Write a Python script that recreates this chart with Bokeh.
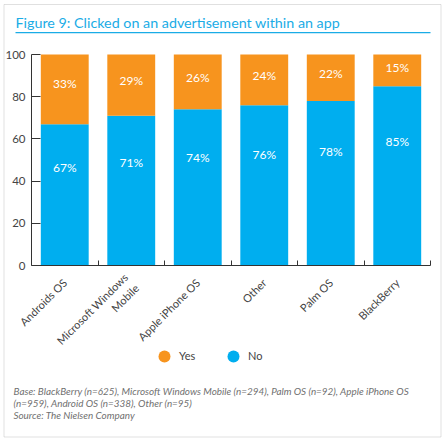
import math
from bokeh.plotting import figure
from bokeh.models import (Range1d, FixedTicker, Label, BoxAnnotation, Legend,
                          LegendItem, ColumnDataSource)
from bokeh.core.properties import value
from bokeh.embed import file_html
from bokeh.resources import INLINE

categories = ["Androids OS", "Microsoft Windows\nMobile", "Apple iPhone OS",
              "Other", "Palm OS", "BlackBerry"]
no_values = [67, 71, 74, 76, 78, 85]
yes_values = [33, 29, 26, 24, 22, 15]
series = ["No", "Yes"]
y_ticks = [0, 20, 40, 60, 80, 100]
title_text = "Figure 9: Clicked on an advertisement within an app"
footer_lines = [
    "Base: BlackBerry (n=625), Microsoft Windows Mobile (n=294), Palm OS (n=92), Apple iPhone OS",
    "(n=959), Android OS (n=338), Other (n=95)",
    "Source: The Nielsen Company",
]

BLUE = "#00AEEF"
ORANGE = "#F7941E"
TITLE_BLUE = "#1AACE6"
FONT = "Lato"
AXIS = "#333333"

W, H = 444, 441
# plot area in canvas pixels (left, right, top, bottom)
PL, PR, PT, PB = 31, 430, 54, 265
n = len(categories)
ppx = (PR - PL) / n          # pixels per category
ppy = (PB - PT) / 100.0      # pixels per percent

xs = [i + 0.5 for i in range(n)]
src = ColumnDataSource(dict(
    x=xs, No=no_values, Yes=yes_values,
    no_lab=[f"{v}%" for v in no_values],
    yes_lab=[f"{v}%" for v in yes_values],
    no_y=[v * 0.69 for v in no_values],
    yes_y=[100 - 0.42 * b for b in yes_values],
))

p = figure(width=W, height=H,
           x_range=Range1d(-PL / ppx, (W - PL) / ppx),
           y_range=Range1d(-(H - PB) / ppy, 100 + PT / ppy),
           output_backend="svg", toolbar_location=None, title_location=None,
           min_border=0)
p.min_border_left = p.min_border_right = p.min_border_top = p.min_border_bottom = 0
p.outline_line_color = None
p.grid.visible = False
p.background_fill_color = "white"
p.border_fill_color = "white"

p.vbar_stack(series, x="x", width=0.72, source=src,
             fill_color=[BLUE, ORANGE], line_color=None)

for ycol, tcol in (("no_y", "no_lab"), ("yes_y", "yes_lab")):
    p.text(x="x", y=ycol, text=tcol, source=src, text_color="white",
           text_font=value(FONT), text_font_size="12px",
           text_align="center", text_baseline="middle")

# y axis
ya = p.yaxis[0]
ya.fixed_location = 0
ya.bounds = (0, 100)
ya.ticker = FixedTicker(ticks=y_ticks)
ya.major_tick_in = 9
ya.major_tick_out = 0
ya.minor_tick_line_color = None
ya.axis_line_color = AXIS
ya.major_tick_line_color = AXIS
ya.major_label_text_font = FONT
ya.major_label_text_font_size = "11.5px"
ya.major_label_text_color = "#444444"
ya.major_label_standoff = 6

# x axis
xa = p.xaxis[0]
xa.fixed_location = 0
xa.bounds = (0, n)
xa.ticker = FixedTicker(ticks=xs, minor_ticks=[i + 1 for i in range(n)])
xa.major_label_overrides = {x: c for x, c in zip(xs, categories)}
xa.major_tick_in = 0
xa.major_tick_out = 0
xa.minor_tick_in = 5
xa.minor_tick_out = 0
xa.minor_tick_line_color = AXIS
xa.axis_line_color = AXIS
xa.major_label_orientation = math.pi / 4
xa.major_label_text_font = FONT
xa.major_label_text_font_size = "11px"
xa.major_label_text_color = "#444444"
xa.major_label_standoff = 15

# legend with circle glyphs (hidden renderers only feed the legend)
r_yes = p.scatter(x=xs, y=yes_values, marker="circle", size=12,
                  fill_color=ORANGE, line_color=None, visible=False)
r_no = p.scatter(x=xs, y=no_values, marker="circle", size=12,
                 fill_color=BLUE, line_color=None, visible=False)
legend = Legend(items=[LegendItem(label="Yes", renderers=[r_yes]),
                       LegendItem(label="No", renderers=[r_no])],
                orientation="horizontal", location=(149, H - 370.5),
                border_line_color=None, background_fill_alpha=0,
                inactive_fill_alpha=0,
                padding=0, margin=0, spacing=19, glyph_width=30, glyph_height=30,
                label_standoff=0, label_height=30,
                label_text_font=FONT, label_text_font_size="11px",
                label_text_color="#444444")
p.add_layout(legend, "center")

# title and underline
p.add_layout(Label(x=15, y=H - 21.5, x_units="screen", y_units="screen",
                   text=title_text, text_font=FONT, text_font_size="14.3px",
                   text_color=TITLE_BLUE, text_baseline="middle"))
p.add_layout(BoxAnnotation(left=15, right=430, bottom=H - 32.7, top=H - 31.5,
                           left_units="screen", right_units="screen",
                           bottom_units="screen", top_units="screen",
                           fill_color=TITLE_BLUE, fill_alpha=1, line_color=None))

# footer
for i, y in enumerate([390.5, 402.5, 414.5]):
    p.add_layout(Label(x=13, y=H - y, x_units="screen", y_units="screen",
                       text=footer_lines[i], text_font=FONT, text_font_style="italic",
                       text_font_size="9.9px", text_color="#707070",
                       text_baseline="middle"))

# outer border
p.add_layout(BoxAnnotation(left=3.5, right=440.5, bottom=H - 436.5, top=H - 4,
                           left_units="screen", right_units="screen",
                           bottom_units="screen", top_units="screen",
                           fill_alpha=0, line_color="#999999", line_width=1))

open("out.html", "w").write(file_html(p, INLINE))
